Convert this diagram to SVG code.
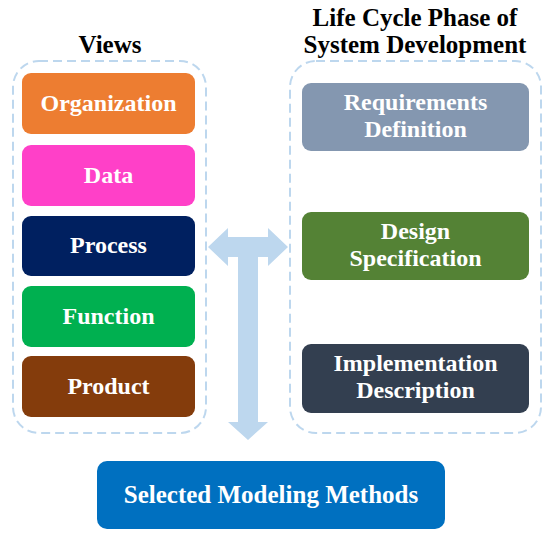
<svg xmlns="http://www.w3.org/2000/svg" width="550" height="540" viewBox="0 0 550 540">
<style>
.t{font-family:"Liberation Serif","Times New Roman",serif;font-weight:bold;font-size:24px;text-anchor:middle}
.big{font-size:25px}
.w{fill:#ffffff}
.k{fill:#000000}
.grp{fill:none;stroke:#BDD7EE;stroke-width:2;stroke-dasharray:9,5}
</style>
<rect width="550" height="540" fill="#ffffff"/>
<g id="views-group">
<rect class="grp" x="13" y="61" width="193" height="372" rx="26"/>
<text class="t k big" x="110" y="53">Views</text>
</g>
<g id="phase-group">
<rect class="grp" x="290" y="61" width="251" height="372" rx="26"/>
<text class="t k big" x="415" y="26">Life Cycle Phase of</text>
<text class="t k big" x="415" y="53">System Development</text>
</g>
<g id="organization">
<rect x="22" y="73" width="173" height="61" rx="9" fill="#ED7D31"/>
<text class="t w" x="108.5" y="111">Organization</text>
</g>
<g id="data">
<rect x="22" y="145" width="173" height="61" rx="9" fill="#FF40C8"/>
<text class="t w" x="108.5" y="183">Data</text>
</g>
<g id="process">
<rect x="22" y="216" width="173" height="60" rx="9" fill="#002060"/>
<text class="t w" x="108.5" y="253">Process</text>
</g>
<g id="function">
<rect x="22" y="286" width="173" height="61" rx="9" fill="#00B050"/>
<text class="t w" x="108.5" y="324">Function</text>
</g>
<g id="product">
<rect x="22" y="356" width="173" height="61" rx="9" fill="#843C0C"/>
<text class="t w" x="108.5" y="394">Product</text>
</g>
<g id="requirements">
<rect x="302" y="83" width="227" height="68" rx="9" fill="#8497B0"/>
<text class="t w" x="415.5" y="110">Requirements</text>
<text class="t w" x="415.5" y="137">Definition</text>
</g>
<g id="design">
<rect x="302" y="212" width="227" height="68" rx="9" fill="#548235"/>
<text class="t w" x="415.5" y="239">Design</text>
<text class="t w" x="415.5" y="266">Specification</text>
</g>
<g id="implementation">
<rect x="302" y="344" width="227" height="69" rx="9" fill="#333F50"/>
<text class="t w" x="415.5" y="371">Implementation</text>
<text class="t w" x="415.5" y="398">Description</text>
</g>
<g id="selected">
<rect x="97" y="461" width="348" height="68" rx="10" fill="#0070C0"/>
<text class="t w big" x="271" y="503">Selected Modeling Methods</text>
</g>
<g id="connectors">
<path d="M208,247 L228,228 L228,237 L268,237 L268,228 L288,247 L268,266 L268,257 L258,257 L258,422 L268,422 L248,440 L228,422 L238,422 L238,257 L228,257 L228,266 Z" fill="#BDD7EE"/>
</g>
</svg>
